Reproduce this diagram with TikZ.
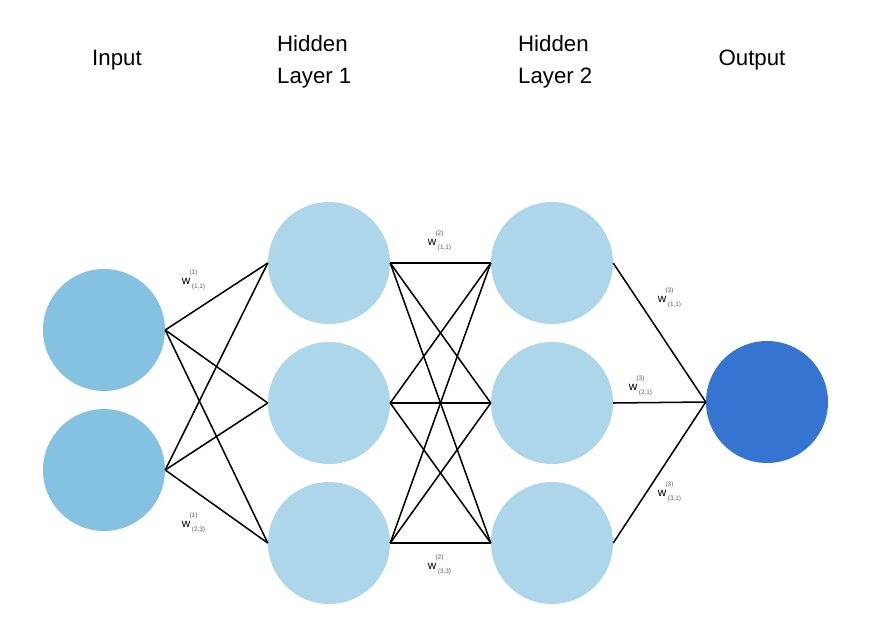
\documentclass[tikz,border=0pt]{standalone}
\usepackage{fontspec}
\setmainfont{Liberation Sans}
\definecolor{incol}{HTML}{85C1E0}
\definecolor{hidcol}{HTML}{AED6EA}
\definecolor{outcol}{HTML}{3574D0}
\definecolor{supcol}{HTML}{555577}
\begin{document}
\begin{tikzpicture}[x=0.03cm,y=-0.03cm,
  neuron/.style={circle,minimum size=3.66cm,inner sep=0pt},
  title/.style={font=\fontsize{19}{27}\selectfont,align=left,anchor=west},
  edge/.style={line width=1.3pt,black},
  wl/.style={font=\fontsize{10}{10}\selectfont,inner sep=0pt},
  ws/.style={font=\fontsize{5.5}{6}\selectfont,inner sep=0pt,text=supcol}]
\useasboundingbox (0,0) rectangle (869,617);
% titles
\node[title,anchor=center] (tin) at (117,60) {Input};
\node[title] (th1) at (273,62) {Hidden\\Layer 1};
\node[title] (th2) at (514,62) {Hidden\\Layer 2};
\node[title,anchor=center] (tout) at (752,60) {Output};
% neurons
\node[neuron,fill=incol] (i1) at (104,330) {};
\node[neuron,fill=incol] (i2) at (104,470) {};
\foreach \k/\y in {1/263,2/403,3/543}{
  \node[neuron,fill=hidcol] (a\k) at (329,\y) {};
  \node[neuron,fill=hidcol] (b\k) at (552,\y) {};
}
\node[neuron,fill=outcol] (o) at (767,402) {};
% connectors
\foreach \i in {1,2}\foreach \j in {1,2,3}
  \draw[edge] (i\i.east) -- (a\j.west);
\foreach \i in {1,2,3}\foreach \j in {1,2,3}
  \draw[edge] (a\i.east) -- (b\j.west);
\foreach \i in {1,2,3}
  \draw[edge] (b\i.east) -- (o.west);
% weight labels
\newcommand{\wlab}[5]{%
  \node[wl] (#1) at (#2) {w};
  \node[ws,anchor=south west] (#1s) at ([xshift=-1pt,yshift=1pt]#1.north east) {(#3)};
  \node[ws,anchor=north west] (#1b) at ([xshift=1pt,yshift=1pt]#1.south east) {(#4)};}
\wlab{w111}{186,281}{1}{1,1}{}
\wlab{w123}{186,524}{1}{2,3}{}
\wlab{w211}{432,242}{2}{1,1}{}
\wlab{w233}{432,566}{2}{3,3}{}
\wlab{w311}{662,299}{3}{1,1}{}
\wlab{w321}{633,387}{3}{2,1}{}
\wlab{w331}{662,493}{3}{3,1}{}
\end{tikzpicture}
\end{document}
